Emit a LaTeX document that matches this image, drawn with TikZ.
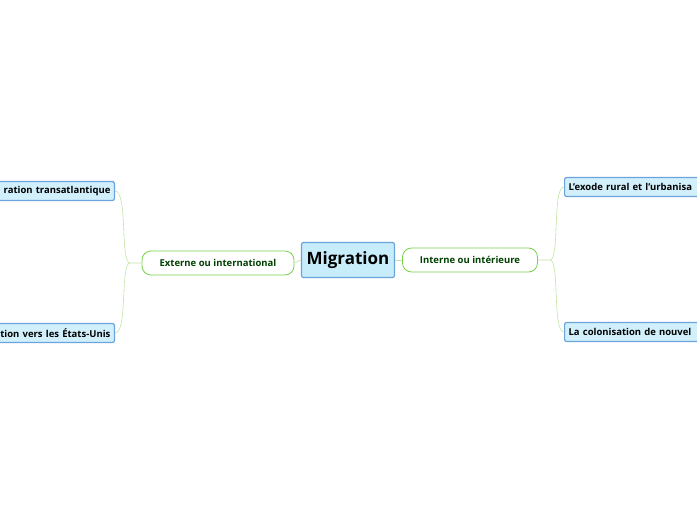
\documentclass[tikz,border=0pt]{standalone}
\usepackage{fontspec}
\setmainfont{Open Sans}
\begin{document}
\begin{tikzpicture}[x=1pt,y=-1pt,
  leaf/.style={draw=cyan!60!blue!60, fill=cyan!18, line width=1.2pt, rounded corners=2pt, font=\bfseries\fontsize{9.5}{11}\selectfont, inner xsep=4pt, minimum height=19pt, text width=130pt},
  mid/.style={draw=green!50!olive!70, fill=white, line width=0.8pt, rounded corners=9pt, font=\bfseries\fontsize{9.5}{11}\selectfont, text=green!25!black, minimum height=24pt},
  conn/.style={draw=green!40!olive!35, line width=0.6pt}]
\useasboundingbox (0,0) rectangle (697,520);
\clip (0,0) rectangle (697,520);
\node[leaf, fill=cyan!22, minimum width=93pt, minimum height=35pt, text width=, font=\bfseries\fontsize{17}{19}\selectfont] (c) at (348,260) {Migration};
\node[mid, minimum width=152pt] (e) at (218,263) {Externe ou international};
\node[mid, minimum width=135pt] (i) at (470,260) {Interne ou intérieure};
\node[leaf, anchor=east, align=right] (l1) at (115,191) {ration transatlantique};
\node[leaf, anchor=east, align=right] (l2) at (115,333) {tion vers les États-Unis};
\node[leaf, anchor=west, align=left] (r1) at (564,187) {L’exode rural et l’urbanisa};
\node[leaf, anchor=west, align=left] (r2) at (564,332) {La colonisation de nouvel};
\draw[conn] (c.west) -- (e.east);
\draw[conn] (c.east) -- (i.west);
\draw[conn] (e.west) -- (130,263) .. controls (120,263) and (128,191) .. (l1.east);
\draw[conn] (130,263) .. controls (120,263) and (128,333) .. (l2.east);
\draw[conn] (i.east) -- (550,260) .. controls (560,260) and (552,187) .. (r1.west);
\draw[conn] (550,260) .. controls (560,260) and (552,332) .. (r2.west);
\end{tikzpicture}
\end{document}
